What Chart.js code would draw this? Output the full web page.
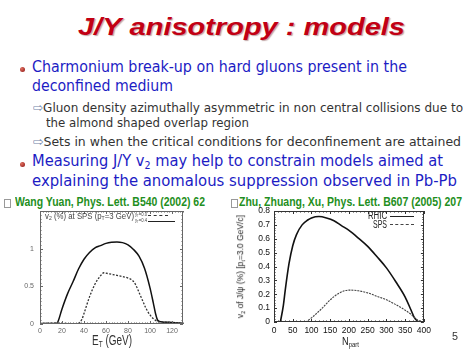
<!DOCTYPE html>
<html><head><meta charset="utf-8">
<script src="https://cdn.jsdelivr.net/npm/chart.js@4.4.0/dist/chart.umd.min.js"></script>
<style>
html,body{margin:0;padding:0;background:#fff;width:474px;height:355px;overflow:hidden;position:relative}
.t{position:absolute;white-space:nowrap;transform-origin:0 0;line-height:1.2;display:inline-block}
.ttl{font-family:"Liberation Sans",Arial,sans-serif;font-weight:bold;font-style:italic;color:#c20014;text-shadow:1px 1px 1px rgba(80,0,0,0.35)}
.b1{font-family:"DejaVu Sans",sans-serif;color:#1c1cc4}
.b2{font-family:"DejaVu Sans",sans-serif;color:#333}
.ar{color:#6f7fa8}
.cit{font-family:"Liberation Sans",Arial,sans-serif;font-weight:bold;color:#1f8f22}
.ax{font-family:"Liberation Sans",Arial,sans-serif;color:#333}
.dot{position:absolute;width:5px;height:5px;border-radius:50%;background:radial-gradient(circle at 35% 35%,#e07060,#8a1010)}
.box{position:absolute;width:5px;height:7px;border:1px solid #999}
.ln{position:absolute;height:0}
canvas{position:absolute}
sub{font-size:65%;vertical-align:-0.25em;line-height:0}
</style></head><body>

<div class="t ttl" data-x="78" data-b="36" data-f="24" data-w="327">J/Υ anisotropy : models</div>

<div class="dot" style="left:20px;top:67px"></div>
<div class="t b1" data-x="32" data-b="72" data-f="16" data-w="375">Charmonium break-up on hard gluons present in the</div>
<div class="t b1" data-x="32" data-b="90.7" data-f="16" data-w="141">deconfined medium</div>
<div class="t b2" data-x="33" data-b="112" data-f="12.5" data-w="430"><span class="ar">⇨</span>Gluon density azimuthally asymmetric in non central collisions due to</div>
<div class="t b2" data-x="46" data-b="126.5" data-f="12.5" data-w="203">the almond shaped overlap region</div>
<div class="t b2" data-x="33" data-b="146" data-f="12.5" data-w="428"><span class="ar">⇨</span>Sets in when the critical conditions for deconfinement are attained</div>
<div class="dot" style="left:20px;top:162px"></div>
<div class="t b1" data-x="32" data-b="166.5" data-f="16" data-w="411">Measuring J/Υ v<sub>2</sub> may help to constrain models aimed at</div>
<div class="t b1" data-x="32" data-b="185.7" data-f="16" data-w="425">explaining the anomalous suppression observed in Pb-Pb</div>

<div class="box" style="left:4px;top:199px"></div>
<div class="t cit" data-x="15" data-b="206.5" data-f="12" data-w="190">Wang Yuan, Phys. Lett. B540 (2002) 62</div>
<div class="box" style="left:231px;top:199px"></div>
<div class="t cit" data-x="239" data-b="206.5" data-f="12" data-w="223">Zhu, Zhuang, Xu, Phys. Lett. B607 (2005) 207</div>

<canvas id="c1" width="195" height="145" style="left:0px;top:200px"></canvas>
<canvas id="c2" width="205" height="145" style="left:230px;top:200px"></canvas>

<div class="t ax" data-x="45" data-b="219.5" data-f="8.5" data-w="89" style="color:#444">v<sub>2</sub> (%) at SPS (p<sub>T</sub>=3 GeV)</div>
<div class="t ax" data-x="135" data-b="216.5" data-f="5.5" data-w="12" style="color:#444">y<sub>T</sub>=0.0</div>
<div class="t ax" data-x="135" data-b="222.5" data-f="5.5" data-w="12" style="color:#444">y<sub>T</sub>=0.4</div>
<div class="ln" style="left:148px;top:214.5px;width:20px;border-top:1.2px dashed #333"></div>
<div class="ln" style="left:148px;top:220.5px;width:27px;border-top:1.4px solid #222"></div>

<div class="t ax" data-x="368" data-b="219.5" data-f="10" data-w="19" style="color:#222">RHIC</div>
<div class="t ax" data-x="373" data-b="228" data-f="10" data-w="14" style="color:#222">SPS</div>
<div class="ln" style="left:390px;top:215.5px;width:24px;border-top:1.5px solid #222"></div>
<div class="ln" style="left:390px;top:224px;width:24px;border-top:1px dashed #444"></div>

<div class="t ax" data-x="92" data-b="345.5" data-f="14" data-w="40">E<sub>T</sub> (GeV)</div>
<div class="t ax" data-x="342" data-b="345" data-f="10" data-w="17" style="color:#222">N<sub>part</sub></div>
<div id="yt" class="t ax" style="font-size:9.5px;color:#222">v<sub>2</sub> of J/ψ (%) [p<sub>t</sub>=3.0 GeV/c]</div>
<div class="t ax" data-x="452" data-b="340" data-f="11" data-w="6" style="color:#333">5</div>

<script>
// ---- Data: left chart (Wang, Yuan) ----
const etSolid   = [0, 10, 15, 16, 20, 25, 30, 35, 40, 45, 50, 55, 60, 65, 70, 75, 80, 85, 90, 95, 100, 103, 105, 107, 110, 120, 130];
const v2Y04     = [0.005, 0.005, 0.01, 0.02, 0.2, 0.4, 0.56, 0.73, 0.86, 0.95, 1.01, 1.04, 1.07, 1.085, 1.09, 1.08, 1.05, 0.99, 0.9, 0.74, 0.48, 0.28, 0.14, 0.05, 0.03, 0.02, 0.01];
const etDashed  = [0, 10, 20, 30, 35, 38, 40, 45, 50, 55, 58, 60, 65, 70, 75, 80, 84, 87, 90, 93, 96, 100, 104, 108, 115, 120, 130];
const v2Y00     = [0.005, 0.01, 0.01, 0.0, 0.01, 0.06, 0.14, 0.36, 0.53, 0.64, 0.68, 0.675, 0.66, 0.645, 0.63, 0.61, 0.58, 0.52, 0.42, 0.32, 0.22, 0.12, 0.06, 0.03, 0.025, 0.02, 0.01];
const etTicks   = [0, 20, 40, 60, 80, 100, 120];
const v2LTicks  = [0, 0.5, 1];

// ---- Data: right chart (Zhu, Zhuang, Xu) ----
const npRhic  = [17, 25, 30, 40, 50, 60, 75, 90, 100, 120, 140, 160, 180, 200, 225, 250, 275, 300, 325, 350, 365, 375, 385];
const v2Rhic  = [0, 0.12, 0.23, 0.42, 0.55, 0.63, 0.70, 0.735, 0.75, 0.76, 0.75, 0.73, 0.695, 0.66, 0.605, 0.545, 0.47, 0.39, 0.29, 0.18, 0.09, 0.03, 0];
const npSps   = [85, 100, 115, 125, 150, 175, 200, 225, 250, 275, 300, 325, 350, 370, 380, 395];
const v2Sps   = [0, 0.03, 0.065, 0.09, 0.16, 0.21, 0.23, 0.225, 0.21, 0.185, 0.16, 0.125, 0.085, 0.045, 0.02, 0];
const npTicks = [0, 50, 100, 150, 200, 250, 300, 350, 400];
const v2RTicks = [0, 0.1, 0.2, 0.3, 0.4, 0.5, 0.6, 0.7, 0.8];

// ---- text placement ----
document.querySelectorAll('.t[data-x]').forEach(el => {
  const f = parseFloat(el.dataset.f);
  el.style.fontSize = f + 'px';
  el.style.left = el.dataset.x + 'px';
  el.style.top = (parseFloat(el.dataset.b) - 0.946 * f) + 'px';
  const w = el.getBoundingClientRect().width;
  el.style.transform = 'scaleX(' + (parseFloat(el.dataset.w) / w) + ')';
});
(function(){
  const el = document.getElementById('yt');
  const r = el.getBoundingClientRect();
  const s = 103 / r.width;
  el.style.left = (240 - r.width / 2) + 'px';
  el.style.top = (267 - r.height / 2) + 'px';
  el.style.transformOrigin = '50% 50%';
  el.style.transform = 'rotate(-90deg) scaleX(' + s + ')';
})();

const pts = (xs, ys) => xs.map((x, i) => ({x, y: ys[i]}));

const frame = {
  id: 'frame',
  afterDatasetsDraw(chart, args, o) {
    const {ctx, chartArea: a, scales: {x, y}} = chart;
    ctx.save();
    ctx.strokeStyle = o.color; ctx.lineWidth = 1;
    ctx.strokeRect(Math.round(a.left) + 0.5, Math.round(a.top) + 0.5, Math.round(a.right - a.left) - 1, Math.round(a.bottom - a.top) - 1);
    ctx.beginPath();
    const isMaj = (v, m) => Math.abs(v / m - Math.round(v / m)) < 1e-6;
    for (let i = 0; ; i++) {
      const v = x.min + i * o.xMinor; if (v > x.max + 1e-9) break;
      const p = Math.round(x.getPixelForValue(v)) + 0.5;
      const L = isMaj(v, o.xMajor) ? o.major : o.minor;
      ctx.moveTo(p, a.bottom); ctx.lineTo(p, a.bottom - L);
      ctx.moveTo(p, a.top); ctx.lineTo(p, a.top + L);
    }
    for (let i = 0; ; i++) {
      const v = y.min + i * o.yMinor; if (v > y.max + 1e-9) break;
      const p = Math.round(y.getPixelForValue(v)) + 0.5;
      const L = isMaj(v, o.yMajor) ? o.major : o.minor;
      ctx.moveTo(a.left, p); ctx.lineTo(a.left + L, p);
      ctx.moveTo(a.right, p); ctx.lineTo(a.right - L, p);
    }
    ctx.stroke();
    ctx.restore();
  }
};

function mkChart(id, cfg) {
  return new Chart(document.getElementById(id), {
    type: 'line',
    data: {datasets: cfg.sets.map(s => ({
      data: pts(s.x, s.y), borderColor: s.color, borderWidth: s.w, borderDash: s.dash,
      pointRadius: 0, cubicInterpolationMode: 'monotone', fill: false
    }))},
    options: {
      responsive: false, animation: false, devicePixelRatio: 1,
      layout: {padding: cfg.pad},
      plugins: {legend: {display: false}, tooltip: {enabled: false}, frame: cfg.frame},
      scales: {
        x: {type: 'linear', min: cfg.xmin, max: cfg.xmax,
          afterBuildTicks: s => { s.ticks = cfg.xticks.map(v => ({value: v})); },
          ticks: {font: {size: cfg.fs, family: 'Liberation Sans'}, color: cfg.tc, padding: cfg.xpad, maxRotation: 0, autoSkip: false, callback: v => String(v)},
          grid: {display: false, drawTicks: false}, border: {display: false},
          afterFit: s => { s.height = cfg.xh; }},
        y: {type: 'linear', min: cfg.ymin, max: cfg.ymax,
          afterBuildTicks: s => { s.ticks = cfg.yticks.map(v => ({value: v})); },
          ticks: {font: {size: cfg.fs, family: 'Liberation Sans'}, color: cfg.tc, padding: cfg.ypad, autoSkip: false, callback: v => String(v)},
          grid: {display: false, drawTicks: false}, border: {display: false},
          afterFit: s => { s.width = cfg.yw; }}
      }
    },
    plugins: [frame]
  });
}

mkChart('c1', {
  sets: [
    {x: etDashed, y: v2Y00, color: '#333', w: 1.3, dash: [2, 1.5]},
    {x: etSolid, y: v2Y04, color: '#111', w: 1.5, dash: []}
  ],
  pad: {left: 0, top: 11, right: 12, bottom: 0},
  xmin: 0, xmax: 130, ymin: 0, ymax: 1.5,
  xticks: etTicks, yticks: v2LTicks,
  fs: 7, tc: '#666', xpad: 3, ypad: 6, xh: 21, yw: 40,
  frame: {color: '#666', xMinor: 2.5, xMajor: 20, yMinor: 0.05, yMajor: 0.5, major: 3, minor: 1.5}
});

mkChart('c2', {
  sets: [
    {x: npSps, y: v2Sps, color: '#444', w: 1.1, dash: [2, 1]},
    {x: npRhic, y: v2Rhic, color: '#111', w: 1.6, dash: []}
  ],
  pad: {left: 0, top: 11, right: 8, bottom: 0},
  xmin: 0, xmax: 400, ymin: 0, ymax: 0.8,
  xticks: npTicks, yticks: v2RTicks,
  fs: 8.5, tc: '#111', xpad: 4, ypad: 4, xh: 23, yw: 44,
  frame: {color: '#333', xMinor: 10, xMajor: 50, yMinor: 0.02, yMajor: 0.1, major: 3, minor: 1.5}
});
</script>
</body></html>
